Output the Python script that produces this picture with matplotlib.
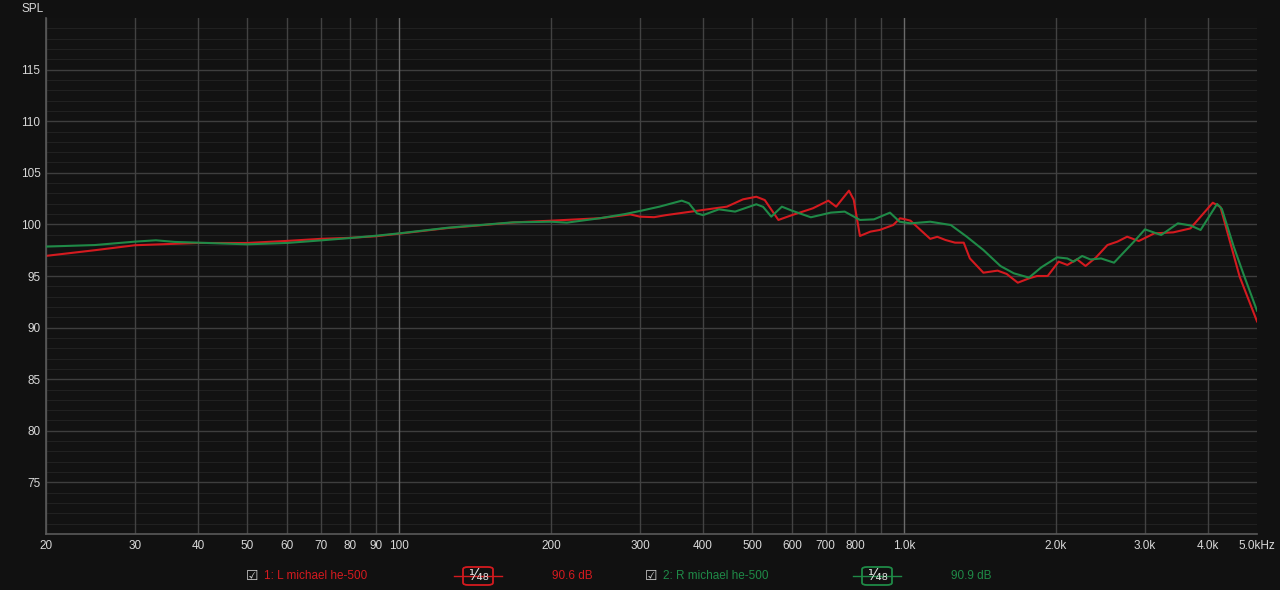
import matplotlib.pyplot as plt
from matplotlib.patches import FancyBboxPatch
from matplotlib.lines import Line2D
import numpy as np

# frequency response data (Hz, dB SPL)
left_freq = [20, 25, 30, 35, 40, 50, 60, 70, 80, 90, 100, 125, 170, 200, 250,
             287, 300, 320, 338, 400, 446, 480, 510, 530, 564, 600, 660, 708,
             734, 778, 795, 818, 858, 895, 952, 982, 1004, 1030, 1078, 1127,
             1164, 1208, 1262, 1313, 1350, 1436, 1532, 1597, 1680, 1768, 1834,
             1925, 2024, 2106, 2200, 2288, 2401, 2528, 2646, 2766, 2917, 3130,
             3414, 3690, 4087, 4232, 4411, 4620, 5000]
left_spl = [96.95, 97.5, 97.98, 98.1, 98.2, 98.2, 98.4, 98.6, 98.7, 98.85,
            99.1, 99.65, 100.2, 100.36, 100.6, 100.97, 100.75, 100.7, 100.9,
            101.4, 101.72, 102.43, 102.68, 102.36, 100.43, 100.9, 101.56,
            102.3, 101.72, 103.27, 102.4, 98.88, 99.3, 99.46, 99.94, 100.59,
            100.5, 100.36, 99.46, 98.6, 98.8, 98.49, 98.23, 98.23, 96.71,
            95.32, 95.52, 95.2, 94.35, 94.77, 95.0, 95.0, 96.39, 96.07, 96.62,
            95.97, 96.81, 98.0, 98.33, 98.81, 98.39, 99.13, 99.23, 99.61,
            102.1, 101.7, 98.49, 94.93, 90.6]

right_freq = [20, 25, 30, 33, 36, 40, 50, 60, 70, 80, 90, 100, 125, 168, 200,
              215, 250, 280, 300, 328, 363, 375, 389, 400, 430, 463, 510, 526,
              546, 573, 600, 654, 716, 763, 800, 818, 872, 938, 980, 1030,
              1127, 1238, 1331, 1436, 1552, 1650, 1768, 1870, 2010, 2106, 2166,
              2253, 2340, 2456, 2605, 2853, 3000, 3230, 3486, 3690, 3866, 4168,
              4260, 4497, 4708, 5000]
right_spl = [97.85, 98.0, 98.33, 98.46, 98.3, 98.23, 98.07, 98.2, 98.45,
             98.68, 98.9, 99.13, 99.68, 100.2, 100.26, 100.17, 100.6, 101.0,
             101.3, 101.72, 102.3, 102.05, 101.07, 100.9, 101.46, 101.24,
             101.95, 101.7, 100.75, 101.72, 101.33, 100.69, 101.14, 101.24,
             100.69, 100.43, 100.49, 101.14, 100.26, 100.1, 100.26, 99.94,
             98.81, 97.52, 95.97, 95.26, 94.84, 95.84, 96.81, 96.7, 96.39,
             96.94, 96.6, 96.7, 96.29, 98.33, 99.52, 98.97, 100.1, 99.9, 99.46,
             101.98, 101.5, 97.84, 95.1, 91.64]

x_ticks = [20, 30, 40, 50, 60, 70, 80, 90, 100, 200, 300, 400, 500, 600, 700,
           800, 900, 1000, 2000, 3000, 4000, 5000]
x_labels = ['20', '30', '40', '50', '60', '70', '80', '90', '100', '200', '300',
            '400', '500', '600', '700', '800', '', '1.0k', '2.0k', '3.0k',
            '4.0k', '5.0kHz']
y_ticks = [75, 80, 85, 90, 95, 100, 105, 110, 115]

RED = '#d41a1f'
GREEN = '#1f8a47'
BG = '#111111'

plt.rcParams['font.family'] = ['Liberation Sans', 'DejaVu Sans']

fig = plt.figure(figsize=(12.8, 5.9), dpi=100, facecolor=BG)
ax = fig.add_axes([46 / 1280, 56 / 590, 1211 / 1280, 516 / 590])
ax.set_facecolor('#121212')
ax.set_xscale('log')
ax.set_xlim(20, 5000)
ax.set_ylim(70, 120)

# grid: 1 dB minor lines, 5 dB major lines, frequency lines
for v in range(71, 120):
    ax.axhline(v, color='#212121', lw=0.8, zorder=0)
for v in y_ticks:
    ax.axhline(v, color='#3e3e3e', lw=1.0, zorder=0.5)
for f in x_ticks[:-1]:
    c = '#6a6a6a' if f in (100, 1000) else '#424242'
    ax.axvline(f, color=c, lw=1.0, zorder=0.5)

ax.plot(right_freq, right_spl, color=GREEN, lw=1.5, zorder=3)
ax.plot(left_freq, left_spl, color=RED, lw=1.5, zorder=2)

ax.set_xticks(x_ticks)
ax.set_xticklabels(x_labels)
ax.xaxis.set_minor_locator(plt.NullLocator())
ax.set_yticks(y_ticks)
ax.tick_params(colors='#d8d8d8', labelsize=8.5, length=0, pad=4)
for s in ('top', 'right'):
    ax.spines[s].set_visible(False)
for s in ('left', 'bottom'):
    ax.spines[s].set_color('#5a5a5a')
    ax.spines[s].set_linewidth(1.2)

fig.text(22 / 1280, 1 - 9 / 590, 'SPL', color='#d8d8d8', fontsize=8.5,
         va='center', ha='left')


# legend row under the chart
def legend_entry(x0, label, level, color):
    y = 1 - 576 / 590
    fig.text(x0 / 1280, y, '\u2611', color='#d0d0d0', fontsize=10,
             va='center', ha='center', family=['DejaVu Sans'])
    fig.text((x0 + 12) / 1280, y, label, color=color, fontsize=8.5,
             va='center', ha='left')
    bx = x0 + 226
    fig.add_artist(Line2D([(bx - 24) / 1280, (bx + 24) / 1280], [y, y],
                          color=color, lw=1.0, transform=fig.transFigure))
    fig.add_artist(FancyBboxPatch(((bx - 15) / 1280, y - 9 / 590),
                                  30 / 1280, 18 / 590,
                                  boxstyle='round,pad=0,rounding_size=0.004',
                                  transform=fig.transFigure, fc=BG,
                                  ec=color, lw=1.3))
    fig.text(bx / 1280, y, '\u00b9\u2044\u2084\u2088', color='#e0e0e0',
             fontsize=11, va='center', ha='center', family=['DejaVu Sans'])
    fig.text((x0 + 300) / 1280, y, level, color=color, fontsize=8.5,
             va='center', ha='left')


legend_entry(252, '1: L michael he-500', '90.6 dB', RED)
legend_entry(651, '2: R michael he-500', '90.9 dB', GREEN)

fig.savefig('out.png', dpi=100, facecolor=BG)
